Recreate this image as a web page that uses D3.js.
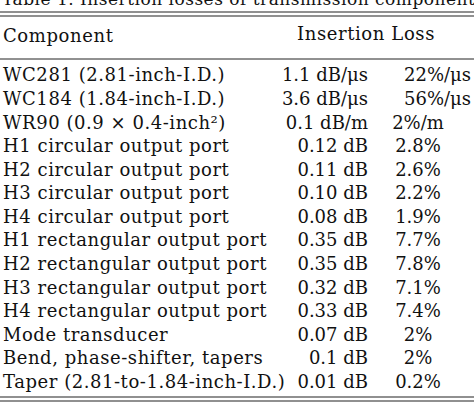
<!DOCTYPE html>
<html><head><meta charset="utf-8">
<script src="https://cdn.jsdelivr.net/npm/d3@7"></script>
<style>body{margin:0;background:#fff}text{font-family:"DejaVu Serif","Liberation Serif",serif;fill:#111}</style>
</head><body><svg id="t"></svg>
<script>
const components = ['WC281 (2.81-inch-I.D.)', 'WC184 (1.84-inch-I.D.)', 'WR90 (0.9 × 0.4-inch²)',
  'H1 circular output port', 'H2 circular output port', 'H3 circular output port', 'H4 circular output port',
  'H1 rectangular output port', 'H2 rectangular output port', 'H3 rectangular output port', 'H4 rectangular output port',
  'Mode transducer', 'Bend, phase-shifter, tapers', 'Taper (2.81-to-1.84-inch-I.D.)'];
const lossDb = ['1.1 dB/μs', '3.6 dB/μs', '0.1 dB/m', '0.12 dB', '0.11 dB', '0.10 dB', '0.08 dB',
  '0.35 dB', '0.35 dB', '0.32 dB', '0.33 dB', '0.07 dB', '0.1 dB', '0.01 dB'];
const lossPct = ['22%/μs', '56%/μs', '2%/m', '2.8%', '2.6%', '2.2%', '1.9%',
  '7.7%', '7.8%', '7.1%', '7.4%', '2%', '2%', '0.2%'];

const width = 474, height = 404;
const svg = d3.select('#t').attr('width', width).attr('height', height);

// rules
const rules = [[12, 1.2], [16, 1.2], [59, 1], [397, 1.2], [401, 1.2]];
svg.selectAll('line.rule').data(rules).enter().append('line')
  .attr('x1', 0).attr('x2', width).attr('y1', d => d[0]).attr('y2', d => d[0])
  .attr('stroke', '#222').attr('stroke-width', d => d[1]);

// caption, clipped by the top edge as in the reference
svg.append('text').attr('x', 2).attr('y', 5).attr('font-size', 17).attr('letter-spacing', 0.5)
  .text('Table 1. Insertion losses of transmission components');

// header
svg.append('text').attr('x', 3).attr('y', 42).attr('font-size', 18).attr('letter-spacing', 0.6).text('Component');
svg.append('text').attr('x', 366).attr('y', 40).attr('font-size', 18).attr('letter-spacing', 0.6)
  .attr('text-anchor', 'middle').text('Insertion Loss');

const y = d3.scaleBand().domain(d3.range(components.length)).range([64, 394]).padding(0);
const rows = svg.selectAll('g.row').data(components).enter().append('g')
  .attr('transform', (d, i) => `translate(0,${y(i) + y.bandwidth() * 0.74})`);
rows.append('text').attr('x', 3).attr('font-size', 18).attr('letter-spacing', 0.55)
  .attr('textLength', d => null).text(d => d);
rows.append('text').attr('x', 368).attr('text-anchor', 'end').attr('font-size', 18)
  .text((d, i) => lossDb[i]);
rows.append('text')
  .attr('x', (d, i) => lossPct[i].includes('μs') ? 471 : 418)
  .attr('text-anchor', (d, i) => lossPct[i].includes('μs') ? 'end' : 'middle')
  .attr('font-size', 18).text((d, i) => lossPct[i]);
</script></body></html>
